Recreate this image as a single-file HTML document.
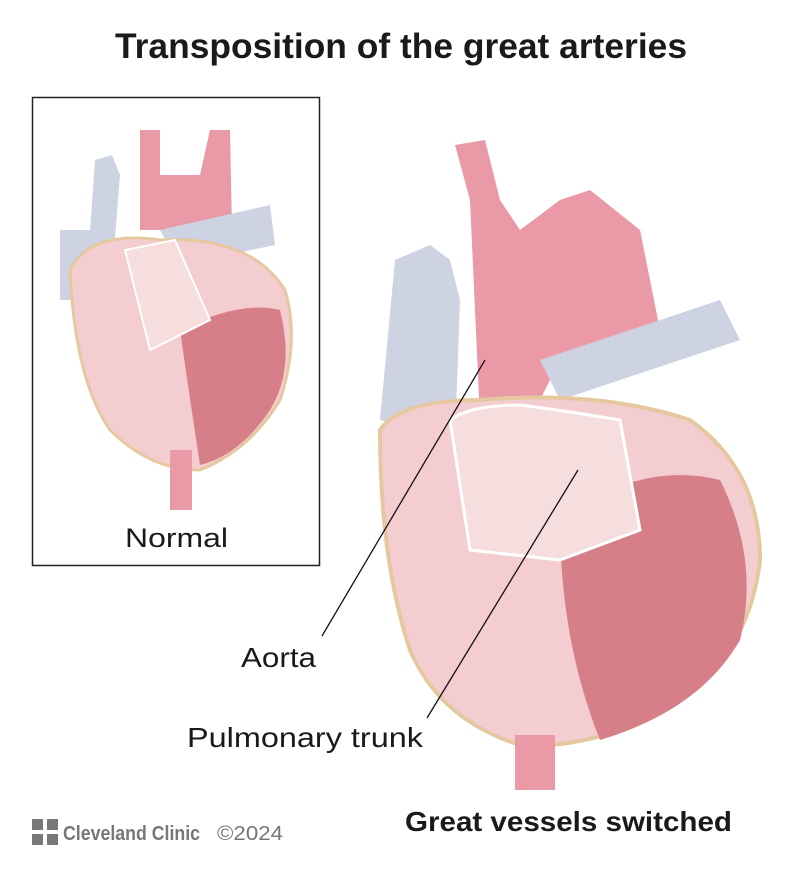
<!DOCTYPE html>
<html><head><meta charset="utf-8"><style>
html,body{margin:0;padding:0;background:#fff;}
body{width:800px;height:876px;overflow:hidden;position:relative;font-family:"Liberation Sans",sans-serif;}
</style></head><body>
<svg width="800" height="876" viewBox="0 0 800 876" xmlns="http://www.w3.org/2000/svg" font-family="Liberation Sans, sans-serif">
<text x="401" y="58" text-anchor="middle" font-size="35" font-weight="bold" fill="#1a1a1a" textLength="572" lengthAdjust="spacingAndGlyphs">Transposition of the great arteries</text>
<rect x="32.5" y="97.5" width="287" height="468" fill="none" stroke="#222" stroke-width="1.5"/>
<!-- small heart -->
<g>
<path d="M140 300 L140 130 L160 130 L160 175 L200 175 L210 130 L230 130 L232 230 L140 230 Z" fill="#e99aa6"/>
<path d="M60 230 L90 230 L95 160 L112 155 L120 175 L110 300 L60 300 Z" fill="#cdd3e3"/>
<path d="M160 230 L270 205 L275 245 L180 265 Z" fill="#cdd3e3"/>
<path d="M70 270 Q90 230 160 240 Q250 235 285 290 Q300 340 280 400 Q250 450 200 470 Q150 470 110 430 Q75 380 70 270 Z" fill="#f4cdd0" stroke="#e6c8a0" stroke-width="3"/>
<path d="M180 330 Q240 300 280 310 Q295 370 270 410 Q240 455 200 465 Q190 400 180 330 Z" fill="#d77f89"/>
<path d="M125 250 L175 240 L210 320 L150 350 Z" fill="#f7dede" stroke="#fff" stroke-width="2"/>
<rect x="170" y="450" width="22" height="60" fill="#e99aa6"/>
</g>
<text x="125" y="547" font-size="27" fill="#1a1a1a" textLength="103" lengthAdjust="spacingAndGlyphs">Normal</text>
<!-- big heart -->
<g>
<path d="M480 420 L470 200 L455 145 L485 140 L500 200 L520 230 L560 200 L590 190 L640 230 L660 330 L560 360 L530 420 Z" fill="#e99aa6"/>
<path d="M380 420 L395 260 L430 245 L450 260 L460 300 L455 440 Z" fill="#cdd3e3"/>
<path d="M540 360 L720 300 L740 340 L560 400 Z" fill="#cdd3e3"/>
<path d="M380 430 Q400 400 480 400 Q600 390 690 420 Q760 470 760 560 Q750 650 680 700 Q600 750 520 745 Q440 720 410 650 Q380 560 380 430 Z" fill="#f4cdd0" stroke="#e6c8a0" stroke-width="4"/>
<path d="M560 520 Q640 460 720 480 Q760 560 740 640 Q700 710 600 740 Q560 640 560 520 Z" fill="#d77f89"/>
<path d="M450 420 Q470 405 520 405 Q560 410 620 420 L640 530 L560 560 L470 550 Z" fill="#f7dede" stroke="#fff" stroke-width="3"/>
<rect x="515" y="735" width="40" height="55" fill="#e99aa6"/>
</g>
<line x1="322" y1="636" x2="485" y2="360" stroke="#111" stroke-width="1.3"/>
<line x1="427" y1="718" x2="578" y2="470" stroke="#111" stroke-width="1.3"/>
<text x="241" y="667" font-size="28" fill="#1a1a1a" textLength="75" lengthAdjust="spacingAndGlyphs">Aorta</text>
<text x="187" y="747" font-size="28" fill="#1a1a1a" textLength="236" lengthAdjust="spacingAndGlyphs">Pulmonary trunk</text>
<text x="405" y="831" font-size="28" font-weight="bold" fill="#1a1a1a" textLength="327" lengthAdjust="spacingAndGlyphs">Great vessels switched</text>
<g fill="#777">
<rect x="32" y="819" width="11" height="11"/><rect x="47" y="819" width="11" height="11"/>
<rect x="32" y="834" width="11" height="11"/><rect x="47" y="834" width="11" height="11"/>
</g>
<text x="63" y="840" font-size="20" font-weight="bold" fill="#777" textLength="137" lengthAdjust="spacingAndGlyphs">Cleveland Clinic</text>
<text x="217" y="840" font-size="20" fill="#777" textLength="66" lengthAdjust="spacingAndGlyphs">©2024</text>
</svg>
</body></html>
